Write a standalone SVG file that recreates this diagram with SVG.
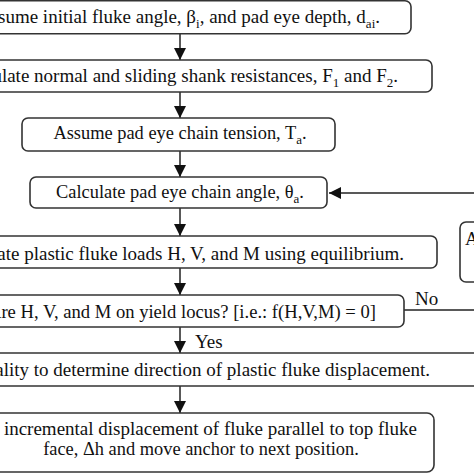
<svg xmlns="http://www.w3.org/2000/svg" width="474" height="474" viewBox="0 0 474 474">
<style>
.box{fill:#fff;stroke:#333;stroke-width:1.6}
.t{font-family:"Liberation Serif","Times New Roman",serif;font-size:19px;fill:#111}
.m{font-size:18.4px}
.s{font-size:13px}
.c{stroke:#222;stroke-width:1.5;fill:none}
</style>
<defs>
<marker id="ah" markerWidth="12" markerHeight="12" viewBox="0 0 12 12" refX="12" refY="6" orient="auto" markerUnits="userSpaceOnUse">
<path d="M0,0 L12,6 L0,12 Z" fill="#111"/>
</marker>
</defs>
<rect width="474" height="474" fill="#fff"/>
<g id="connectors">
<line class="c" x1="180" y1="34" x2="180" y2="60" marker-end="url(#ah)"/>
<line class="c" x1="180" y1="92" x2="180" y2="118" marker-end="url(#ah)"/>
<line class="c" x1="180" y1="151" x2="180" y2="177" marker-end="url(#ah)"/>
<line class="c" x1="180" y1="208" x2="180" y2="236" marker-end="url(#ah)"/>
<line class="c" x1="180" y1="268" x2="180" y2="295" marker-end="url(#ah)"/>
<line class="c" x1="180" y1="327" x2="180" y2="353" marker-end="url(#ah)"/>
<line class="c" x1="180" y1="386" x2="180" y2="413" marker-end="url(#ah)"/>
<line class="c" x1="404" y1="310" x2="476" y2="310"/>
<line class="c" x1="476" y1="193" x2="329" y2="193" marker-end="url(#ah)"/>
<text class="t" x="415" y="305">No</text>
<text class="t" x="195" y="348">Yes</text>
</g>
<g id="n1">
<rect class="box" x="-53" y="0.8" width="464" height="33" rx="6"/>
<text class="t" x="380" y="23" text-anchor="end">Assume initial fluke angle, β<tspan class="s" dy="5">i</tspan><tspan dy="-5">, and pad eye depth, d</tspan><tspan class="s" dy="5">ai</tspan><tspan dy="-5">.</tspan></text>
</g>
<g id="n2">
<rect class="box" x="-74" y="60" width="506" height="32" rx="6"/>
<text class="t" x="398" y="82" text-anchor="end">Calculate normal and sliding shank resistances, F<tspan class="s" dy="5">1</tspan><tspan dy="-5"> and F</tspan><tspan class="s" dy="5">2</tspan><tspan dy="-5">.</tspan></text>
</g>
<g id="n3">
<rect class="box" x="22" y="118" width="313" height="33" rx="6"/>
<text class="t m" x="180" y="139" text-anchor="middle">Assume pad eye chain tension, T<tspan class="s" dy="5">a</tspan><tspan dy="-5">.</tspan></text>
</g>
<g id="n4">
<rect class="box" x="30" y="177" width="297" height="31" rx="6"/>
<text class="t m" x="180" y="198" text-anchor="middle">Calculate pad eye chain angle, θ<tspan class="s" dy="5">a</tspan><tspan dy="-5">.</tspan></text>
</g>
<g id="n5">
<rect class="box" x="-79" y="236" width="516" height="32" rx="6"/>
<text class="t" x="404" y="260" text-anchor="end">Calculate plastic fluke loads H, V, and M using equilibrium.</text>
</g>
<g id="n6">
<rect class="box" x="460" y="222" width="40" height="60" rx="6"/>
<text class="t" x="465" y="245">A</text>
</g>
<g id="n7">
<rect class="box" x="-46" y="295" width="450" height="32" rx="6"/>
<text class="t" x="376" y="318" text-anchor="end" style="font-size:18.6px">Are H, V, and M on yield locus? [i.e.: f(H,V,M) = 0]</text>
</g>
<g id="n8">
<rect class="box" x="-80" y="353" width="580" height="33" rx="6"/>
<text class="t" x="430" y="376" text-anchor="end">Use normality to determine direction of plastic fluke displacement.</text>
</g>
<g id="n9">
<rect class="box" x="-76" y="413" width="510" height="59" rx="7"/>
<text class="t" x="417" y="435" text-anchor="end">Take incremental displacement of fluke parallel to top fluke</text>
<text class="t m" x="201" y="455" text-anchor="middle">face, Δh and move anchor to next position.</text>
</g>
</svg>
